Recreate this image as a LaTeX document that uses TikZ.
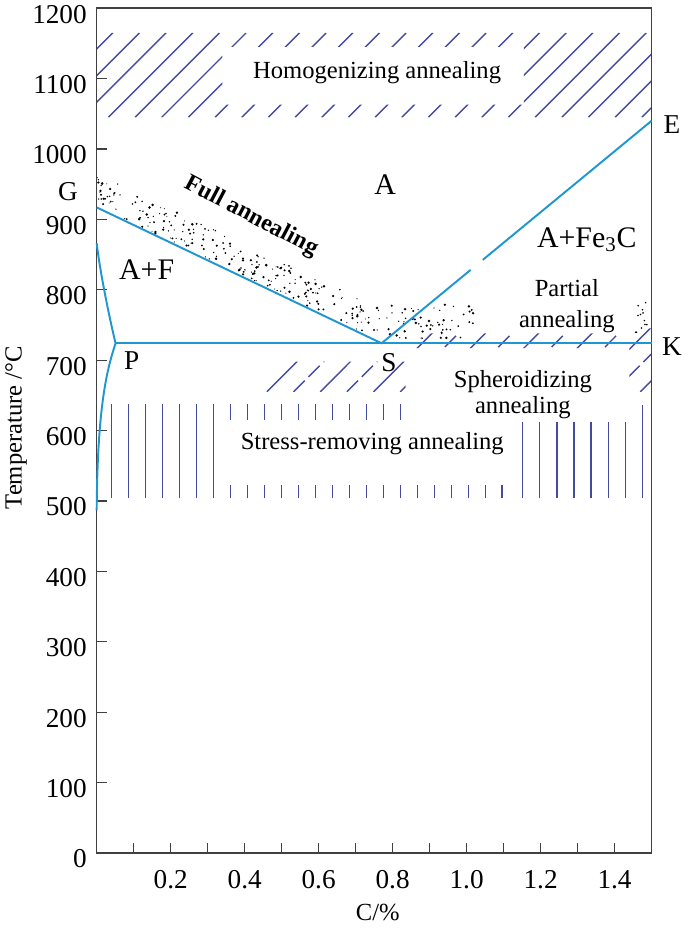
\documentclass[tikz,border=0pt]{standalone}
\usepackage{fontspec}
\setmainfont{Liberation Serif}
\usetikzlibrary{calc}
\definecolor{phaseblue}{RGB}{30,150,210}
\definecolor{hatchblue}{RGB}{68,74,160}

\begin{document}
\begin{tikzpicture}[x=7.4cm, y=0.01408cm,
    phase/.style={draw=phaseblue, line width=1.1pt},
    hatch/.style={draw=hatchblue, line width=0.8pt},
    axislbl/.style={font=\fontsize{15.5}{18}\selectfont, inner sep=0pt},
    region/.style={font=\fontsize{17}{20}\selectfont, inner sep=0pt},
    anneal/.style={font=\fontsize{14}{15}\selectfont, align=center, inner sep=0pt}]
  \useasboundingbox (-0.2614,-109.4) rectangle (1.59,1211.6);

  % Stippled bands
  \pgfmathsetseed{11}
  \foreach \i in {1,...,230}{
    \pgfmathsetmacro{\dc}{0.77*rnd}
    \pgfmathsetmacro{\dT}{917-250.6*\dc+3+45*rnd}
    \pgfmathsetmacro{\dr}{0.3+0.5*rnd}
    \fill (\dc,\dT) circle[radius=\dr pt];
  }
  \foreach \i in {1,...,60}{
    \pgfmathsetmacro{\dc}{0.78+0.24*rnd}
    \pgfmathsetmacro{\dT}{731+48*rnd}
    \pgfmathsetmacro{\dr}{0.3+0.5*rnd}
    \fill (\dc,\dT) circle[radius=\dr pt];
  }
  \foreach \i in {1,...,12}{
    \pgfmathsetmacro{\dc}{1.455+0.04*rnd}
    \pgfmathsetmacro{\dT}{736+52*rnd}
    \fill (\dc,\dT) circle[radius=0.5pt];
  }

  % Homogenizing hatch
  \begin{scope}
    \clip (0,1045) rectangle (0.34,1165) (1.155,1045) rectangle (1.5,1165)
          (0.34,1045) rectangle (1.155,1063) (0.34,1145) rectangle (1.155,1165);
    \foreach \k in {0,...,25}
      \draw[hatch] (-0.2568+0.0721*\k,1045) -- ++(0.2284,120);
  \end{scope}

  % Spheroidizing hatch
  \begin{scope}
    \clip (0.455,655) rectangle (0.835,698) (0.835,717) rectangle (1.5,738)
          (1.44,655) rectangle (1.5,745);
    \foreach \c in {0.46,0.6042,...,1.5}
      \draw[hatch] (\c,655) -- ++(0.2432,128);
    \foreach \c in {0.5321,0.6763,...,1.5}
      \draw[hatch, dash pattern=on 9pt off 3pt] (\c,655) -- ++(0.2432,128);
  \end{scope}

  % Stress-removing hatch
  \foreach \k in {0,...,6}
    \draw[hatch] (0.0405+0.0459*\k,504) -- ++(0,134);
  \foreach \k in {7,...,17}
    \draw[hatch] (0.0405+0.0459*\k,615) -- ++(0,23);
  \foreach \k in {7,...,23}
    \draw[hatch] (0.0405+0.0459*\k,504) -- ++(0,19);
  \foreach \k in {0,...,6}
    \draw[hatch] (1.151+0.0464*\k,504) -- ++(0,108);
  \draw[hatch] (1.476,504) -- ++(0,132);

  % Axes
  \draw[line width=0.9pt, black!75] (0,0) rectangle (1.5,1200);
  \foreach \t in {100,200,...,1100}
    \draw[line width=0.7pt, black!75] (0,\t) -- ++(0.027,0);
  \foreach \c in {0.1,0.2,...,1.45}
    \draw[line width=0.7pt, black!75] (\c,0) -- ++(0,14.2);
  \foreach \t in {0,100,...,1200}
    \node[axislbl, anchor=east, yshift=-0.12cm] (ylab\t) at (-0.026,\t) {\t};
  \foreach \l [count=\n] in {0.2,0.4,0.6,0.8,1.0,1.2,1.4}
    \node[axislbl] (xlab\n) at (\l,-38) {\l};
  \node[anneal] (xtitle) at (0.76,-84) {C/\%};
  \node[anneal, rotate=90] (ytitle) at (-0.218,604) {Temperature /°C};

  % Phase lines
  \coordinate (G) at (0,917);
  \coordinate (S) at (0.77,724);
  \coordinate (P) at (0.051,724);
  \coordinate (E) at (1.5,1040);
  \coordinate (K) at (1.5,724);
  \coordinate (Ptop) at (0,866);
  \coordinate (Pbot) at (0,487);
  \draw[phase] (G) -- (S) -- ($(S)!0.33!(E)$);
  \draw[phase] ($(S)!0.375!(E)$) -- (E);
  \draw[phase] (P) -- (K);
  \draw[phase] (Ptop) .. controls (0.008,830) and (0.03,770) .. (P)
                      .. controls (0.03,690) and (0.002,640) .. (Pbot);

  % Labels
  \node[axislbl] (lG) at (-0.0776,940) {G};
  \node[axislbl] (lE) at (1.555,1034) {E};
  \node[axislbl] (lK) at (1.555,719) {K};
  \node[axislbl] (lP) at (0.0946,700) {P};
  \node[axislbl] (lS) at (0.79,697) {S};
  \node[region] (rA) at (0.78,949) {A};
  \node[region] (rAF) at (0.135,828) {A+F};
  \node[region] (rAC) at (1.325,871) {A+Fe\textsubscript{3}C};
  \node[anneal] (hom) at (0.758,1109) {Homogenizing annealing};
  \node[anneal, font=\bfseries\fontsize{13.6}{15}\selectfont, rotate=-27.7] (full) at (0.418,904) {Full annealing};
  \node[anneal, font=\fontsize{14}{18}\selectfont] (part) at (1.271,777) {Partial\\annealing};
  \node[anneal] (sph) at (1.152,651) {Spheroidizing\\annealing};
  \node[anneal] (str) at (0.745,582) {Stress-removing annealing};
\end{tikzpicture}
\end{document}
